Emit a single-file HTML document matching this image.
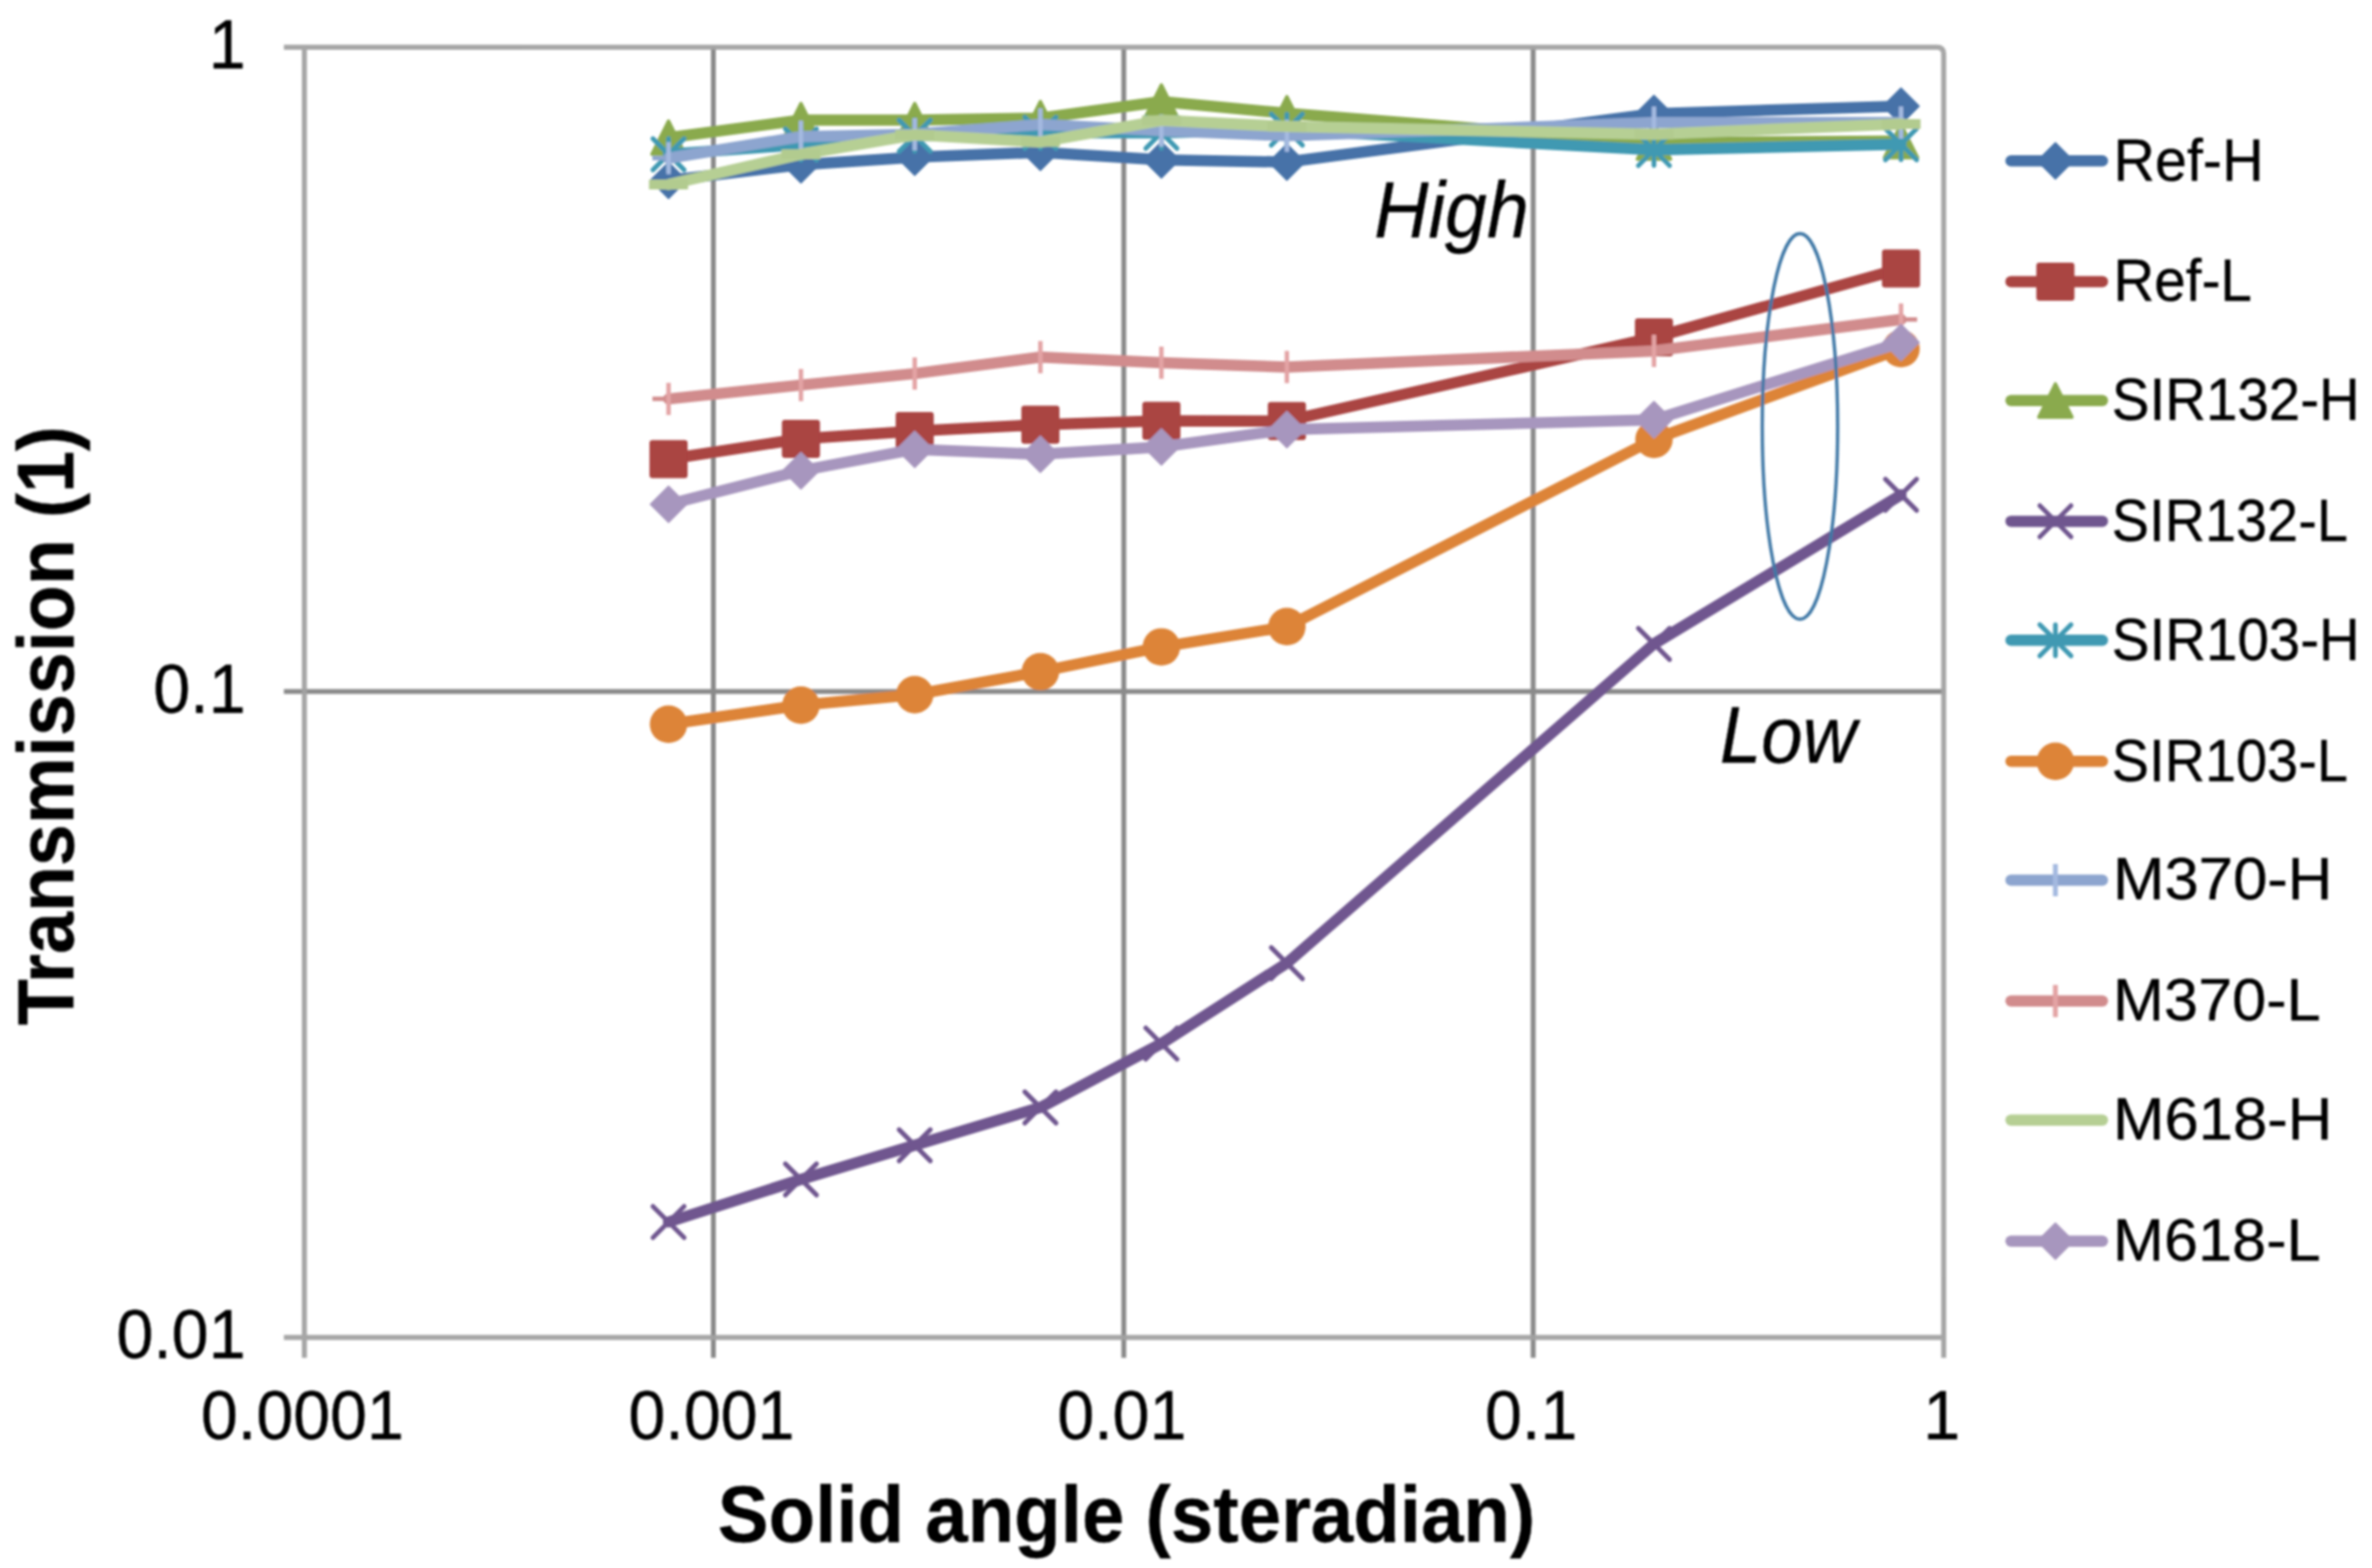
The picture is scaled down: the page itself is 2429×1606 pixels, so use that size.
<!DOCTYPE html>
<html lang="en"><head><meta charset="utf-8"><title>Transmission vs solid angle</title>
<style>html,body{margin:0;padding:0;background:#fff;}body{width:2429px;height:1606px;overflow:hidden;}svg{display:block;}text{font-family:"Liberation Sans",sans-serif;fill:#000;stroke:#000;stroke-width:0.35px;}</style></head><body>
<svg width="2429" height="1606" viewBox="0 0 2429 1606">
<defs><filter id="soft" filterUnits="userSpaceOnUse" x="0" y="0" width="2429" height="1606"><feGaussianBlur stdDeviation="0.9"/></filter></defs>
<rect width="2429" height="1606" fill="#fff"/>
<g filter="url(#soft)">
<g stroke="#8a8a8a" stroke-width="5.0" fill="none"><line x1="730.5" y1="48.3" x2="730.5" y2="1390.8"/><line x1="1150.8" y1="48.3" x2="1150.8" y2="1390.8"/><line x1="1570.0" y1="48.3" x2="1570.0" y2="1390.8"/><line x1="290.7" y1="708.3" x2="1990.4" y2="708.3"/></g>
<g stroke="#a2a2a2" stroke-width="5.2" fill="none" opacity="0.95"><path d="M290.7 48.3L1983.4 48.3Q1990.4 48.3 1990.4 55.3L1990.4 1390.8"/><line x1="290.7" y1="1369.8" x2="1990.4" y2="1369.8"/><line x1="311.7" y1="48.3" x2="311.7" y2="1390.8"/></g>
<g><polyline points="684.6,184.7 820.2,168.7 936.7,161.0 1065.4,156.0 1189.3,163.7 1317.8,166.0 1693.7,116.4 1946.7,108.8" fill="none" stroke="#4672a8" stroke-width="11.5" stroke-linejoin="round" stroke-linecap="round"/>
<path d="M684.6 166.2L703.1 184.7L684.6 203.2L666.1 184.7Z" fill="#4672a8" stroke="#4672a8" stroke-width="1.5" stroke-linejoin="round"/>
<path d="M820.2 150.2L838.7 168.7L820.2 187.2L801.7 168.7Z" fill="#4672a8" stroke="#4672a8" stroke-width="1.5" stroke-linejoin="round"/>
<path d="M936.7 142.5L955.2 161.0L936.7 179.5L918.2 161.0Z" fill="#4672a8" stroke="#4672a8" stroke-width="1.5" stroke-linejoin="round"/>
<path d="M1065.4 137.5L1083.9 156.0L1065.4 174.5L1046.9 156.0Z" fill="#4672a8" stroke="#4672a8" stroke-width="1.5" stroke-linejoin="round"/>
<path d="M1189.3 145.2L1207.8 163.7L1189.3 182.2L1170.8 163.7Z" fill="#4672a8" stroke="#4672a8" stroke-width="1.5" stroke-linejoin="round"/>
<path d="M1317.8 147.5L1336.3 166.0L1317.8 184.5L1299.3 166.0Z" fill="#4672a8" stroke="#4672a8" stroke-width="1.5" stroke-linejoin="round"/>
<path d="M1693.7 97.9L1712.2 116.4L1693.7 134.9L1675.2 116.4Z" fill="#4672a8" stroke="#4672a8" stroke-width="1.5" stroke-linejoin="round"/>
<path d="M1946.7 90.3L1965.2 108.8L1946.7 127.3L1928.2 108.8Z" fill="#4672a8" stroke="#4672a8" stroke-width="1.5" stroke-linejoin="round"/>
</g>
<g><polyline points="684.6,470.3 820.2,449.4 936.7,441.6 1065.4,434.9 1189.3,430.9 1317.8,431.2 1693.7,345.6 1946.7,275.1" fill="none" stroke="#aa4442" stroke-width="11.5" stroke-linejoin="round" stroke-linecap="round"/>
<rect x="666.1" y="451.8" width="37.0" height="37.0" rx="2" fill="#aa4442" stroke="#aa4442" stroke-width="2"/>
<rect x="801.7" y="430.9" width="37.0" height="37.0" rx="2" fill="#aa4442" stroke="#aa4442" stroke-width="2"/>
<rect x="918.2" y="423.1" width="37.0" height="37.0" rx="2" fill="#aa4442" stroke="#aa4442" stroke-width="2"/>
<rect x="1046.9" y="416.4" width="37.0" height="37.0" rx="2" fill="#aa4442" stroke="#aa4442" stroke-width="2"/>
<rect x="1170.8" y="412.4" width="37.0" height="37.0" rx="2" fill="#aa4442" stroke="#aa4442" stroke-width="2"/>
<rect x="1299.3" y="412.7" width="37.0" height="37.0" rx="2" fill="#aa4442" stroke="#aa4442" stroke-width="2"/>
<rect x="1675.2" y="327.1" width="37.0" height="37.0" rx="2" fill="#aa4442" stroke="#aa4442" stroke-width="2"/>
<rect x="1928.2" y="256.6" width="37.0" height="37.0" rx="2" fill="#aa4442" stroke="#aa4442" stroke-width="2"/>
</g>
<g><polyline points="684.6,141.0 820.2,123.0 936.7,123.0 1065.4,121.0 1189.3,104.0 1317.8,116.0 1693.7,146.0 1946.7,144.5" fill="none" stroke="#8aaa4e" stroke-width="11.5" stroke-linejoin="round" stroke-linecap="round"/>
<path d="M684.6 124.0L701.6 158.0L667.6 158.0Z" fill="#8aaa4e" stroke="#8aaa4e" stroke-width="3.5" stroke-linejoin="round"/>
<path d="M820.2 106.0L837.2 140.0L803.2 140.0Z" fill="#8aaa4e" stroke="#8aaa4e" stroke-width="3.5" stroke-linejoin="round"/>
<path d="M936.7 106.0L953.7 140.0L919.7 140.0Z" fill="#8aaa4e" stroke="#8aaa4e" stroke-width="3.5" stroke-linejoin="round"/>
<path d="M1065.4 104.0L1082.4 138.0L1048.4 138.0Z" fill="#8aaa4e" stroke="#8aaa4e" stroke-width="3.5" stroke-linejoin="round"/>
<path d="M1189.3 87.0L1206.3 121.0L1172.3 121.0Z" fill="#8aaa4e" stroke="#8aaa4e" stroke-width="3.5" stroke-linejoin="round"/>
<path d="M1317.8 99.0L1334.8 133.0L1300.8 133.0Z" fill="#8aaa4e" stroke="#8aaa4e" stroke-width="3.5" stroke-linejoin="round"/>
<path d="M1693.7 129.0L1710.7 163.0L1676.7 163.0Z" fill="#8aaa4e" stroke="#8aaa4e" stroke-width="3.5" stroke-linejoin="round"/>
<path d="M1946.7 127.5L1963.7 161.5L1929.7 161.5Z" fill="#8aaa4e" stroke="#8aaa4e" stroke-width="3.5" stroke-linejoin="round"/>
</g>
<g><polyline points="684.6,1251.6 820.2,1208.0 936.7,1173.0 1065.4,1134.3 1189.3,1068.9 1317.8,986.5 1693.7,659.5 1946.7,506.8" fill="none" stroke="#70568f" stroke-width="11.5" stroke-linejoin="round" stroke-linecap="round"/>
<path d="M668.6 1235.6L700.6 1267.6M668.6 1267.6L700.6 1235.6" fill="none" stroke="#70568f" stroke-width="4.8" stroke-linecap="round"/>
<path d="M804.2 1192.0L836.2 1224.0M804.2 1224.0L836.2 1192.0" fill="none" stroke="#70568f" stroke-width="4.8" stroke-linecap="round"/>
<path d="M920.7 1157.0L952.7 1189.0M920.7 1189.0L952.7 1157.0" fill="none" stroke="#70568f" stroke-width="4.8" stroke-linecap="round"/>
<path d="M1049.4 1118.3L1081.4 1150.3M1049.4 1150.3L1081.4 1118.3" fill="none" stroke="#70568f" stroke-width="4.8" stroke-linecap="round"/>
<path d="M1173.3 1052.9L1205.3 1084.9M1173.3 1084.9L1205.3 1052.9" fill="none" stroke="#70568f" stroke-width="4.8" stroke-linecap="round"/>
<path d="M1301.8 970.5L1333.8 1002.5M1301.8 1002.5L1333.8 970.5" fill="none" stroke="#70568f" stroke-width="4.8" stroke-linecap="round"/>
<path d="M1677.7 643.5L1709.7 675.5M1677.7 675.5L1709.7 643.5" fill="none" stroke="#70568f" stroke-width="4.8" stroke-linecap="round"/>
<path d="M1930.7 490.8L1962.7 522.8M1930.7 522.8L1962.7 490.8" fill="none" stroke="#70568f" stroke-width="4.8" stroke-linecap="round"/>
</g>
<g><polyline points="684.6,158.0 820.2,148.0 936.7,139.0 1065.4,136.0 1189.3,136.0 1317.8,132.8 1693.7,153.6 1946.7,147.7" fill="none" stroke="#4099b2" stroke-width="11.5" stroke-linejoin="round" stroke-linecap="round"/>
<path d="M668.6 142.0L700.6 174.0M668.6 174.0L700.6 142.0M684.6 142.0L684.6 174.0" fill="none" stroke="#4099b2" stroke-width="4.8" stroke-linecap="round"/>
<path d="M804.2 132.0L836.2 164.0M804.2 164.0L836.2 132.0M820.2 132.0L820.2 164.0" fill="none" stroke="#4099b2" stroke-width="4.8" stroke-linecap="round"/>
<path d="M920.7 123.0L952.7 155.0M920.7 155.0L952.7 123.0M936.7 123.0L936.7 155.0" fill="none" stroke="#4099b2" stroke-width="4.8" stroke-linecap="round"/>
<path d="M1049.4 120.0L1081.4 152.0M1049.4 152.0L1081.4 120.0M1065.4 120.0L1065.4 152.0" fill="none" stroke="#4099b2" stroke-width="4.8" stroke-linecap="round"/>
<path d="M1173.3 120.0L1205.3 152.0M1173.3 152.0L1205.3 120.0M1189.3 120.0L1189.3 152.0" fill="none" stroke="#4099b2" stroke-width="4.8" stroke-linecap="round"/>
<path d="M1301.8 116.8L1333.8 148.8M1301.8 148.8L1333.8 116.8M1317.8 116.8L1317.8 148.8" fill="none" stroke="#4099b2" stroke-width="4.8" stroke-linecap="round"/>
<path d="M1677.7 137.6L1709.7 169.6M1677.7 169.6L1709.7 137.6M1693.7 137.6L1693.7 169.6" fill="none" stroke="#4099b2" stroke-width="4.8" stroke-linecap="round"/>
<path d="M1930.7 131.7L1962.7 163.7M1930.7 163.7L1962.7 131.7M1946.7 131.7L1946.7 163.7" fill="none" stroke="#4099b2" stroke-width="4.8" stroke-linecap="round"/>
</g>
<g><polyline points="684.6,741.8 820.2,722.3 936.7,711.5 1065.4,687.9 1189.3,662.6 1317.8,641.8 1693.7,450.0 1946.7,357.1" fill="none" stroke="#dd8439" stroke-width="11.5" stroke-linejoin="round" stroke-linecap="round"/>
<circle cx="684.6" cy="741.8" r="19.2" fill="#dd8439"/>
<circle cx="820.2" cy="722.3" r="19.2" fill="#dd8439"/>
<circle cx="936.7" cy="711.5" r="19.2" fill="#dd8439"/>
<circle cx="1065.4" cy="687.9" r="19.2" fill="#dd8439"/>
<circle cx="1189.3" cy="662.6" r="19.2" fill="#dd8439"/>
<circle cx="1317.8" cy="641.8" r="19.2" fill="#dd8439"/>
<circle cx="1693.7" cy="450.0" r="19.2" fill="#dd8439"/>
<circle cx="1946.7" cy="357.1" r="19.2" fill="#dd8439"/>
</g>
<g><polyline points="684.6,162.0 820.2,140.0 936.7,137.5 1065.4,127.5 1189.3,133.8 1317.8,139.0 1693.7,125.6 1946.7,125.6" fill="none" stroke="#8da5cf" stroke-width="11.5" stroke-linejoin="round" stroke-linecap="round"/>
<path d="M668.1 162.0L701.1 162.0" fill="none" stroke="#8da5cf" stroke-width="4.5"/><path d="M684.6 145.5L684.6 178.5" fill="none" stroke="#a4b9e0" stroke-width="4.5"/>
<path d="M803.7 140.0L836.7 140.0" fill="none" stroke="#8da5cf" stroke-width="4.5"/><path d="M820.2 123.5L820.2 156.5" fill="none" stroke="#a4b9e0" stroke-width="4.5"/>
<path d="M920.2 137.5L953.2 137.5" fill="none" stroke="#8da5cf" stroke-width="4.5"/><path d="M936.7 121.0L936.7 154.0" fill="none" stroke="#a4b9e0" stroke-width="4.5"/>
<path d="M1048.9 127.5L1081.9 127.5" fill="none" stroke="#8da5cf" stroke-width="4.5"/><path d="M1065.4 111.0L1065.4 144.0" fill="none" stroke="#a4b9e0" stroke-width="4.5"/>
<path d="M1172.8 133.8L1205.8 133.8" fill="none" stroke="#8da5cf" stroke-width="4.5"/><path d="M1189.3 117.3L1189.3 150.3" fill="none" stroke="#a4b9e0" stroke-width="4.5"/>
<path d="M1301.3 139.0L1334.3 139.0" fill="none" stroke="#8da5cf" stroke-width="4.5"/><path d="M1317.8 122.5L1317.8 155.5" fill="none" stroke="#a4b9e0" stroke-width="4.5"/>
<path d="M1677.2 125.6L1710.2 125.6" fill="none" stroke="#8da5cf" stroke-width="4.5"/><path d="M1693.7 109.1L1693.7 142.1" fill="none" stroke="#a4b9e0" stroke-width="4.5"/>
<path d="M1930.2 125.6L1963.2 125.6" fill="none" stroke="#8da5cf" stroke-width="4.5"/><path d="M1946.7 109.1L1946.7 142.1" fill="none" stroke="#a4b9e0" stroke-width="4.5"/>
</g>
<g><polyline points="684.6,408.6 820.2,394.4 936.7,382.6 1065.4,365.8 1189.3,371.5 1317.8,375.9 1693.7,359.4 1946.7,327.3" fill="none" stroke="#d18c8d" stroke-width="11.5" stroke-linejoin="round" stroke-linecap="round"/>
<path d="M668.1 408.6L701.1 408.6" fill="none" stroke="#d18c8d" stroke-width="4.5"/><path d="M684.6 392.1L684.6 425.1" fill="none" stroke="#e3a3a4" stroke-width="4.5"/>
<path d="M803.7 394.4L836.7 394.4" fill="none" stroke="#d18c8d" stroke-width="4.5"/><path d="M820.2 377.9L820.2 410.9" fill="none" stroke="#e3a3a4" stroke-width="4.5"/>
<path d="M920.2 382.6L953.2 382.6" fill="none" stroke="#d18c8d" stroke-width="4.5"/><path d="M936.7 366.1L936.7 399.1" fill="none" stroke="#e3a3a4" stroke-width="4.5"/>
<path d="M1048.9 365.8L1081.9 365.8" fill="none" stroke="#d18c8d" stroke-width="4.5"/><path d="M1065.4 349.3L1065.4 382.3" fill="none" stroke="#e3a3a4" stroke-width="4.5"/>
<path d="M1172.8 371.5L1205.8 371.5" fill="none" stroke="#d18c8d" stroke-width="4.5"/><path d="M1189.3 355.0L1189.3 388.0" fill="none" stroke="#e3a3a4" stroke-width="4.5"/>
<path d="M1301.3 375.9L1334.3 375.9" fill="none" stroke="#d18c8d" stroke-width="4.5"/><path d="M1317.8 359.4L1317.8 392.4" fill="none" stroke="#e3a3a4" stroke-width="4.5"/>
<path d="M1677.2 359.4L1710.2 359.4" fill="none" stroke="#d18c8d" stroke-width="4.5"/><path d="M1693.7 342.9L1693.7 375.9" fill="none" stroke="#e3a3a4" stroke-width="4.5"/>
<path d="M1930.2 327.3L1963.2 327.3" fill="none" stroke="#d18c8d" stroke-width="4.5"/><path d="M1946.7 310.8L1946.7 343.8" fill="none" stroke="#e3a3a4" stroke-width="4.5"/>
</g>
<g><polyline points="684.6,189.0 820.2,158.0 936.7,138.0 1065.4,145.4 1189.3,123.3 1317.8,129.6 1693.7,137.4 1946.7,127.0" fill="none" stroke="#b6cf94" stroke-width="11.5" stroke-linejoin="round" stroke-linecap="round"/>
<rect x="664.6" y="184.0" width="40" height="10" fill="#b2cb8f"/>
<rect x="800.2" y="153.0" width="40" height="10" fill="#b2cb8f"/>
<rect x="916.7" y="133.0" width="40" height="10" fill="#b2cb8f"/>
<rect x="1045.4" y="140.4" width="40" height="10" fill="#b2cb8f"/>
<rect x="1169.3" y="118.3" width="40" height="10" fill="#b2cb8f"/>
<rect x="1297.8" y="124.6" width="40" height="10" fill="#b2cb8f"/>
<rect x="1673.7" y="132.4" width="40" height="10" fill="#b2cb8f"/>
<rect x="1926.7" y="122.0" width="40" height="10" fill="#b2cb8f"/>
</g>
<g><polyline points="684.6,516.5 820.2,482.1 936.7,460.2 1065.4,465.3 1189.3,457.8 1317.8,440.0 1693.7,429.9 1946.7,350.7" fill="none" stroke="#a796be" stroke-width="11.5" stroke-linejoin="round" stroke-linecap="round"/>
<path d="M684.6 498.0L703.1 516.5L684.6 535.0L666.1 516.5Z" fill="#a796be" stroke="#a796be" stroke-width="1.5" stroke-linejoin="round"/>
<path d="M820.2 463.6L838.7 482.1L820.2 500.6L801.7 482.1Z" fill="#a796be" stroke="#a796be" stroke-width="1.5" stroke-linejoin="round"/>
<path d="M936.7 441.7L955.2 460.2L936.7 478.7L918.2 460.2Z" fill="#a796be" stroke="#a796be" stroke-width="1.5" stroke-linejoin="round"/>
<path d="M1065.4 446.8L1083.9 465.3L1065.4 483.8L1046.9 465.3Z" fill="#a796be" stroke="#a796be" stroke-width="1.5" stroke-linejoin="round"/>
<path d="M1189.3 439.3L1207.8 457.8L1189.3 476.3L1170.8 457.8Z" fill="#a796be" stroke="#a796be" stroke-width="1.5" stroke-linejoin="round"/>
<path d="M1317.8 421.5L1336.3 440.0L1317.8 458.5L1299.3 440.0Z" fill="#a796be" stroke="#a796be" stroke-width="1.5" stroke-linejoin="round"/>
<path d="M1693.7 411.4L1712.2 429.9L1693.7 448.4L1675.2 429.9Z" fill="#a796be" stroke="#a796be" stroke-width="1.5" stroke-linejoin="round"/>
<path d="M1946.7 332.2L1965.2 350.7L1946.7 369.2L1928.2 350.7Z" fill="#a796be" stroke="#a796be" stroke-width="1.5" stroke-linejoin="round"/>
</g>
<ellipse cx="1843.2" cy="436.8" rx="38.6" ry="197.5" fill="none" stroke="#3f78a6" stroke-width="3.4"/>
<text transform="translate(1407.13,243.00) scale(0.9479,1)" font-size="81.25" font-weight="normal" font-style="italic">High</text>
<text transform="translate(1761.16,780.50) scale(0.9376,1)" font-size="81.25" font-weight="normal" font-style="italic">Low</text>
<text transform="translate(251.5,69.5) scale(1,1.0300)" font-size="68.0" text-anchor="end">1</text>
<text transform="translate(251.5,729.5) scale(1,1.0300)" font-size="68.0" text-anchor="end">0.1</text>
<text transform="translate(251.5,1391.0) scale(1,1.0300)" font-size="68.0" text-anchor="end">0.01</text>
<text transform="translate(309.7,1473.6) scale(1,1.0300)" font-size="68.0" text-anchor="middle">0.0001</text>
<text transform="translate(728.5,1473.6) scale(1,1.0300)" font-size="68.0" text-anchor="middle">0.001</text>
<text transform="translate(1148.8,1473.6) scale(1,1.0300)" font-size="68.0" text-anchor="middle">0.01</text>
<text transform="translate(1568.0,1473.6) scale(1,1.0300)" font-size="68.0" text-anchor="middle">0.1</text>
<text transform="translate(1988.4,1473.6) scale(1,1.0300)" font-size="68.0" text-anchor="middle">1</text>
<text transform="translate(734.95,1579.00) scale(0.9611,1)" font-size="81.25" font-weight="bold" font-style="normal" stroke-width="0.25">Solid angle (steradian)</text>
<text transform="translate(75.0,1050.17) rotate(-90) scale(0.9510,1)" font-size="81.25" font-weight="bold" stroke-width="0.25">Transmission (1)</text>
<g><line x1="2059.3" y1="164.7" x2="2153.0" y2="164.7" stroke="#4672a8" stroke-width="11.5" stroke-linecap="round"/>
<path d="M2104.8 146.2L2123.3 164.7L2104.8 183.2L2086.3 164.7Z" fill="#4672a8" stroke="#4672a8" stroke-width="1.5" stroke-linejoin="round"/>
<text transform="translate(2164.17,184.50) scale(0.9696,1)" font-size="60.76" font-weight="normal" font-style="normal">Ref-H</text>
</g>
<g><line x1="2059.3" y1="288.4" x2="2153.0" y2="288.4" stroke="#aa4442" stroke-width="11.5" stroke-linecap="round"/>
<rect x="2086.3" y="269.9" width="37.0" height="37.0" rx="2" fill="#aa4442" stroke="#aa4442" stroke-width="2"/>
<text transform="translate(2164.25,308.20) scale(0.9536,1)" font-size="60.76" font-weight="normal" font-style="normal">Ref-L</text>
</g>
<g><line x1="2059.3" y1="410.2" x2="2153.0" y2="410.2" stroke="#8aaa4e" stroke-width="11.5" stroke-linecap="round"/>
<path d="M2104.8 393.2L2121.8 427.2L2087.8 427.2Z" fill="#8aaa4e" stroke="#8aaa4e" stroke-width="3.5" stroke-linejoin="round"/>
<text transform="translate(2162.57,430.00) scale(0.9523,1)" font-size="60.76" font-weight="normal" font-style="normal">SIR132-H</text>
</g>
<g><line x1="2059.3" y1="533.9" x2="2153.0" y2="533.9" stroke="#70568f" stroke-width="11.5" stroke-linecap="round"/>
<path d="M2088.8 517.9L2120.8 549.9M2088.8 549.9L2120.8 517.9" fill="none" stroke="#70568f" stroke-width="4.8" stroke-linecap="round"/>
<text transform="translate(2162.60,553.70) scale(0.9417,1)" font-size="60.76" font-weight="normal" font-style="normal">SIR132-L</text>
</g>
<g><line x1="2059.3" y1="655.8" x2="2153.0" y2="655.8" stroke="#4099b2" stroke-width="11.5" stroke-linecap="round"/>
<path d="M2088.8 639.8L2120.8 671.8M2088.8 671.8L2120.8 639.8M2104.8 639.8L2104.8 671.8" fill="none" stroke="#4099b2" stroke-width="4.8" stroke-linecap="round"/>
<text transform="translate(2162.57,675.60) scale(0.9523,1)" font-size="60.76" font-weight="normal" font-style="normal">SIR103-H</text>
</g>
<g><line x1="2059.3" y1="779.8" x2="2153.0" y2="779.8" stroke="#dd8439" stroke-width="11.5" stroke-linecap="round"/>
<circle cx="2104.8" cy="779.8" r="19.2" fill="#dd8439"/>
<text transform="translate(2162.60,799.60) scale(0.9417,1)" font-size="60.76" font-weight="normal" font-style="normal">SIR103-L</text>
</g>
<g><line x1="2059.3" y1="901.5" x2="2153.0" y2="901.5" stroke="#8da5cf" stroke-width="11.5" stroke-linecap="round"/>
<path d="M2104.8 885.0L2104.8 918.0" fill="none" stroke="#a4b9e0" stroke-width="5"/>
<text transform="translate(2163.82,921.30) scale(1.0395,1)" font-size="60.76" font-weight="normal" font-style="normal">M370-H</text>
</g>
<g><line x1="2059.3" y1="1025.3" x2="2153.0" y2="1025.3" stroke="#d18c8d" stroke-width="11.5" stroke-linecap="round"/>
<path d="M2104.8 1008.8L2104.8 1041.8" fill="none" stroke="#e3a3a4" stroke-width="5"/>
<text transform="translate(2163.86,1045.10) scale(1.0321,1)" font-size="60.76" font-weight="normal" font-style="normal">M370-L</text>
</g>
<g><line x1="2059.3" y1="1147.2" x2="2153.0" y2="1147.2" stroke="#b6cf94" stroke-width="11.5" stroke-linecap="round"/>

<text transform="translate(2163.82,1167.00) scale(1.0395,1)" font-size="60.76" font-weight="normal" font-style="normal">M618-H</text>
</g>
<g><line x1="2059.3" y1="1271.2" x2="2153.0" y2="1271.2" stroke="#a796be" stroke-width="11.5" stroke-linecap="round"/>
<path d="M2104.8 1252.7L2123.3 1271.2L2104.8 1289.7L2086.3 1271.2Z" fill="#a796be" stroke="#a796be" stroke-width="1.5" stroke-linejoin="round"/>
<text transform="translate(2163.86,1291.00) scale(1.0321,1)" font-size="60.76" font-weight="normal" font-style="normal">M618-L</text>
</g>
</g></svg></body></html>
